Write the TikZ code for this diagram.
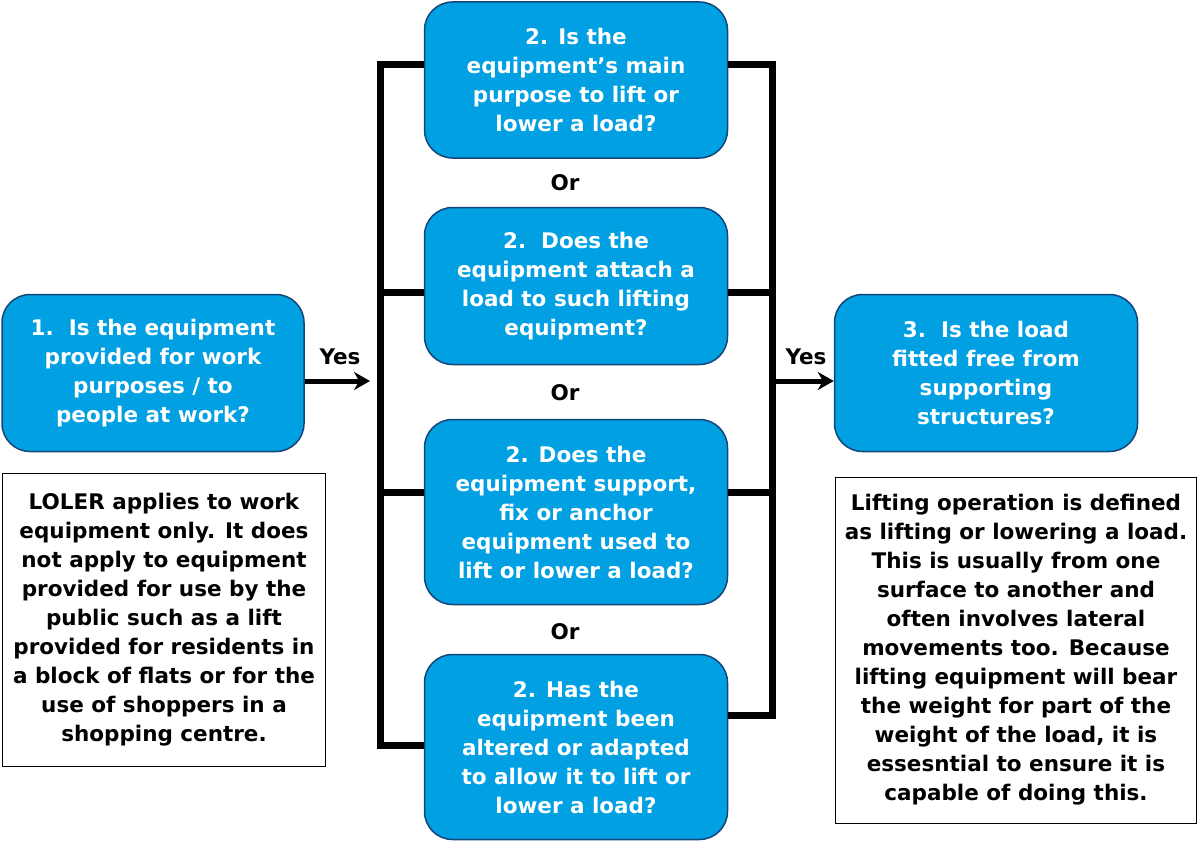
\documentclass[tikz,border=0pt]{standalone}
\usepackage{fontspec}
\setmainfont{DejaVu Sans}
\usetikzlibrary{arrows.meta}
\definecolor{boxblue}{RGB}{0,160,227}
\definecolor{edgeblue}{RGB}{20,70,120}
\tikzset{
  qbox/.style={rectangle, rounded corners=28pt, draw=edgeblue, line width=1.5pt, fill=boxblue,
    text=white, font=\fontsize{21.5}{29}\selectfont\bfseries, align=center, inner sep=0pt},
  notebox/.style={rectangle, draw=black, line width=1pt, fill=white,
    font=\fontsize{21.5}{29}\selectfont\bfseries, align=center, inner sep=0pt},
  link/.style={line width=7pt},
  arrow/.style={line width=5pt,-{Stealth[length=16pt,width=18pt]}},
  lbl/.style={font=\fontsize{21.5}{29}\selectfont\bfseries}
}
\begin{document}
\begin{tikzpicture}[x=1pt,y=-1pt]
  \useasboundingbox (0,0) rectangle (1200,843);
  % question boxes
  \node (work) [qbox, minimum width=302pt, minimum height=157pt] at (153,373) {1.\ \ Is the equipment\\provided for work\\purposes / to\\people at work?};
  \node (mainp) [qbox, minimum width=303pt, minimum height=156pt] at (576,80) {2. Is the\\equipment's main\\purpose to lift or\\lower a load?};
  \node (attach) [qbox, minimum width=303pt, minimum height=157pt] at (576,286) {2.\ \ Does the\\equipment attach a\\load to such lifting\\equipment?};
  \node (support) [qbox, minimum width=303pt, minimum height=185pt] at (576,512) {2. Does the\\equipment support,\\fix or anchor\\equipment used to\\lift or lower a load?};
  \node (altered) [qbox, minimum width=303pt, minimum height=185pt] at (576,747) {2. Has the\\equipment been\\altered or adapted\\to allow it to lift or\\lower a load?};
  \node (free) [qbox, minimum width=303pt, minimum height=157pt] at (986,373) {3.\ \ Is the load\\fitted free from\\supporting\\structures?};
  % notes
  \node (loler) [notebox, minimum width=323pt, minimum height=293pt] at (164,620) {LOLER applies to work\\equipment only. It does\\not apply to equipment\\provided for use by the\\public such as a lift\\provided for residents in\\a block of flats or for the\\use of shoppers in a\\shopping centre.};
  \node (liftop) [notebox, minimum width=361pt, minimum height=346pt] at (1016,650) {Lifting operation is defined\\as lifting or lowering a load.\\This is usually from one\\surface to another and\\often involves lateral\\movements too. Because\\lifting equipment will bear\\the weight for part of the\\weight of the load, it is\\essesntial to ensure it is\\capable of doing this.};
  % brackets
  \coordinate (lt) at (380,65);  \coordinate (lb) at (380,745);
  \coordinate (rt) at (772,65);  \coordinate (rb) at (772,715);
  \coordinate (lm) at (370,381); \coordinate (rm) at (772,381);
  \draw [link] (mainp.west |- lt) -- (lt) -- (lb) -- (altered.west |- lb);
  \draw [link] (mainp.east |- rt) -- (rt) -- (rb) -- (altered.east |- rb);
  \draw [link] (attach.west |- 0,292) -- (380,292);
  \draw [link] (support.west |- 0,492) -- (380,492);
  \draw [link] (attach.east |- 0,292) -- (772,292);
  \draw [link] (support.east |- 0,492) -- (772,492);
  \draw [arrow] (work.east |- lm) -- (lm);
  \draw [arrow] (rm) -- (free.west |- rm);
  % labels
  \node (yes1) [lbl] at (340,357) {Yes};
  \node (yes2) [lbl] at (806,357) {Yes};
  \node (or1) [lbl] at (565,183) {Or};
  \node (or2) [lbl] at (565,393) {Or};
  \node (or3) [lbl] at (565,632) {Or};
\end{tikzpicture}
\end{document}
